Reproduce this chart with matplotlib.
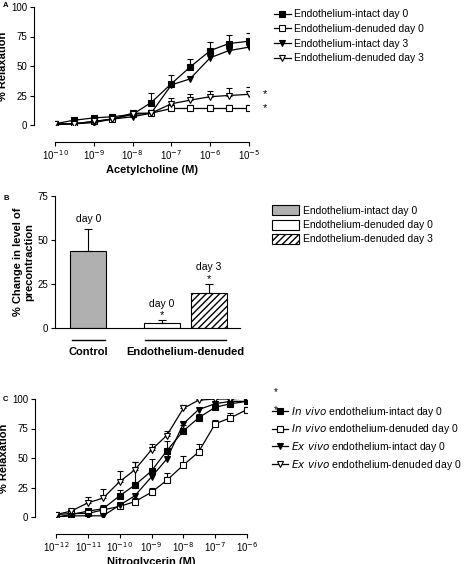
import matplotlib.pyplot as plt
import numpy as np

plt.rcParams['font.family'] = ['Liberation Sans', 'DejaVu Sans']
plt.rcParams['font.size'] = 7

# panel A: acetylcholine
ach = [1e-10, 3e-10, 1e-9, 3e-9, 1e-8, 3e-8, 1e-7, 3e-7, 1e-6, 3e-6, 1e-5]
a_int0 = [1, 4, 6, 7, 9, 19, 35, 49, 63, 69, 71]
a_int0_err = [0, 1, 1, 1, 1, 8, 7, 7, 7, 7, 7]
a_den0 = [1, 1, 3, 5, 10, 10, 14, 14, 14, 14, 14]
a_den0_err = [0, 0, 1, 1, 1, 1, 2, 3, 3, 3, 3]
a_int3 = [0, 1, 2, 5, 7, 10, 34, 39, 57, 63, 66]
a_den3 = [1, 1, 3, 5, 9, 10, 18, 21, 24, 25, 26]
a_den3_err = [0, 0, 1, 1, 1, 1, 5, 5, 5, 6, 6]

# panel B
b_vals = [44, 3, 20]
b_err = [12, 1.5, 5]
b_labels = ['Endothelium-intact day 0', 'Endothelium-denuded day 0', 'Endothelium-denuded day 3']

# panel C: nitroglycerin
ntg = [1e-12, 3e-12, 1e-11, 3e-11, 1e-10, 3e-10, 1e-9, 3e-9, 1e-8, 3e-8, 1e-7, 3e-7, 1e-6]
c_viv_int = [0, 2, 5, 7, 18, 27, 39, 56, 73, 84, 93, 96, 98]
c_viv_int_err = [0, 1, 1, 3, 5, 20, 10, 8, 5, 3, 2, 2, 1]
c_viv_den = [2, 3, 3, 6, 9, 13, 21, 31, 44, 55, 79, 84, 91]
c_viv_den_err = [0, 1, 1, 2, 2, 3, 4, 6, 8, 7, 3, 4, 2]
c_ex_int = [0, 1, 1, 1, 10, 18, 34, 49, 79, 91, 96, 98, 98]
c_ex_den = [2, 5, 12, 16, 30, 40, 57, 69, 92, 99, 100, 100, 101]
c_ex_den_err = [0, 1, 5, 8, 9, 7, 5, 4, 3, 1, 1, 1, 1]

W, H = 474, 564
fig = plt.figure(figsize=(W / 100, H / 100), dpi=100)


def px_axes(x0, y0, x1, y1):
    return fig.add_axes([x0 / W, 1 - y1 / H, (x1 - x0) / W, (y1 - y0) / H])


def style(ax, xoff=15, yoff=12):
    ax.spines['top'].set_visible(False)
    ax.spines['right'].set_visible(False)
    ax.spines['left'].set_position(('outward', xoff))
    ax.spines['bottom'].set_position(('outward', yoff))
    ax.tick_params(direction='out', length=3, width=0.8, pad=2)


def dose_plot(ax, x, series, xlabel, ticks):
    for y, err, mk, fc, lab in series:
        if err is not None:
            ax.errorbar(x, y, yerr=[np.zeros(len(err)), err], fmt='none', ecolor='k',
                        elinewidth=0.8, capsize=2.5, capthick=0.8)
        ax.plot(x, y, '-', color='k', lw=0.9, marker=mk, ms=5, mfc=fc, mec='k', mew=0.8, label=lab)
    ax.set_xscale('log')
    ax.set_xlim(x[0], x[-1])
    ax.set_xticks(ticks)
    ax.set_xticklabels([f'10$^{{{int(np.log10(t))}}}$' for t in ticks], fontsize=6.5)
    ax.minorticks_off()
    ax.set_ylim(0, 100)
    ax.set_yticks([0, 25, 50, 75, 100])
    ax.set_ylabel('% Relaxation', fontweight='bold', fontsize=8, labelpad=2)
    ax.set_xlabel(xlabel, fontweight='bold', fontsize=8, labelpad=2)
    style(ax)


# A
axA = px_axes(55, 7, 249, 125)
dose_plot(axA, ach, [
    (a_int0, a_int0_err, 's', 'k', 'Endothelium-intact day 0'),
    (a_den0, a_den0_err, 's', 'white', 'Endothelium-denuded day 0'),
    (a_int3, None, 'v', 'k', 'Endothelium-intact day 3'),
    (a_den3, a_den3_err, 'v', 'white', 'Endothelium-denuded day 3'),
], 'Acetylcholine (M)', [1e-10, 1e-9, 1e-8, 1e-7, 1e-6, 1e-5])
axA.legend(loc='upper left', bbox_to_anchor=(1.08, 1.06), frameon=False, fontsize=7.5,
           handlelength=1.6, handletextpad=0.3, labelspacing=0.45)
axA.text(1.07, a_den3[-1], '*', transform=axA.get_yaxis_transform(), va='center', fontsize=8)
axA.text(1.07, a_den0[-1], '*', transform=axA.get_yaxis_transform(), va='center', fontsize=8)
fig.text(3 / W, 1 - 7 / H, 'A', fontsize=5.5, fontweight='bold')

# B
axB = px_axes(55, 196, 240, 328)
pos = [1, 2.55, 3.55]
fills = ['#b0b0b0', 'white', 'white']
hatches = [None, None, '/////']
for p, v, e, fc, hch, lab in zip(pos, b_vals, b_err, fills, hatches, b_labels):
    axB.bar(p, v, width=0.75, color=fc, edgecolor='k', lw=0.8, hatch=hch, label=lab,
            yerr=[[0], [e]], error_kw=dict(elinewidth=0.8, capsize=3, capthick=0.8))
axB.set_xlim(0.3, 4.2)
axB.set_ylim(0, 75)
axB.set_yticks([0, 25, 50, 75])
axB.set_xticks([])
axB.set_ylabel('% Change in level of\nprecontraction', fontweight='bold', fontsize=8, labelpad=2)
axB.spines['top'].set_visible(False)
axB.spines['right'].set_visible(False)
axB.tick_params(direction='out', length=3, width=0.8, pad=2)
axB.text(1, 60, 'day 0', ha='center', fontsize=7.5)
axB.text(2.55, 12, 'day 0', ha='center', fontsize=7.5)
axB.text(3.55, 33, 'day 3', ha='center', fontsize=7.5)
axB.text(2.55, 5.5, '*', ha='center', fontsize=8)
axB.text(3.55, 26, '*', ha='center', fontsize=8)
axB.plot([0.65, 1.35], [-7, -7], color='k', lw=1, clip_on=False)
axB.plot([2.2, 3.9], [-7, -7], color='k', lw=1, clip_on=False)
axB.text(1, -11, 'Control', ha='center', va='top', fontweight='bold', fontsize=8)
axB.text(3.05, -11, 'Endothelium-denuded', ha='center', va='top', fontweight='bold', fontsize=8)
axB.legend(loc='upper left', bbox_to_anchor=(1.12, 1.0), frameon=False, fontsize=7.5,
           handlelength=2.6, handleheight=1.1, handletextpad=0.4, labelspacing=0.35)
fig.text(3 / W, 1 - 200 / H, 'B', fontsize=5.5, fontweight='bold')

# C
axC = px_axes(56, 399, 247, 517)
dose_plot(axC, ntg, [
    (c_viv_int, c_viv_int_err, 's', 'k', '$\\it{In\\ vivo}$ endothelium-intact day 0'),
    (c_viv_den, c_viv_den_err, 's', 'white', '$\\it{In\\ vivo}$ endothelium-denuded day 0'),
    (c_ex_int, None, 'v', 'k', '$\\it{Ex\\ vivo}$ endothelium-intact day 0'),
    (c_ex_den, c_ex_den_err, 'v', 'white', '$\\it{Ex\\ vivo}$ endothelium-denuded day 0'),
], 'Nitroglycerin (M)', [1e-12, 1e-11, 1e-10, 1e-9, 1e-8, 1e-7, 1e-6])
axC.legend(loc='upper left', bbox_to_anchor=(1.08, 1.03), frameon=False, fontsize=7.5,
           handlelength=1.6, handletextpad=0.3, labelspacing=0.35)
axC.text(1.14, 106, '*', transform=axC.get_yaxis_transform(), va='center', fontsize=7)
axC.text(1.14, 91, '*', transform=axC.get_yaxis_transform(), va='center', fontsize=7)
fig.text(3 / W, 1 - 401 / H, 'C', fontsize=5.5, fontweight='bold')

fig.savefig('out.png', dpi=100)
